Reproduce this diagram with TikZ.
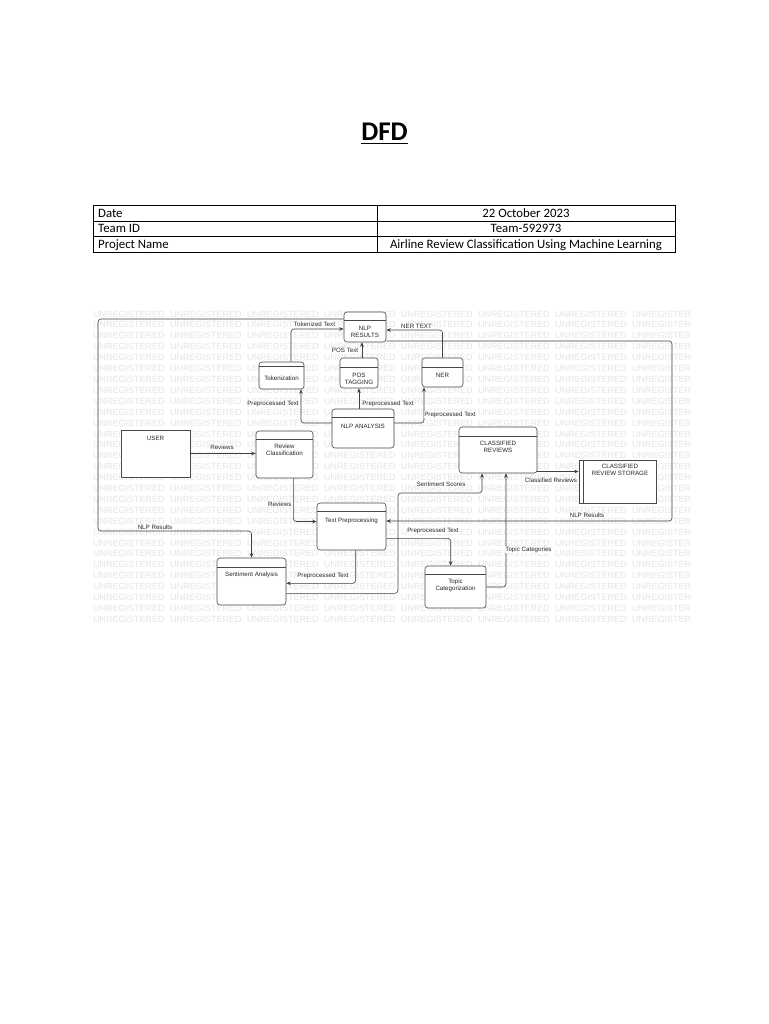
\documentclass[tikz,border=0pt]{standalone}
\usepackage{fontspec}
\setmainfont{Carlito}
\newfontfamily\diafont{Liberation Sans}
\usetikzlibrary{arrows.meta}
\begin{document}
\begin{tikzpicture}[x=1pt,y=-1pt,
  box/.style={draw=black!72, line width=0.6pt, rounded corners=3pt, inner sep=0pt, fill=white},
  ent/.style={draw=black!72, line width=0.6pt, inner sep=0pt, fill=white},
  hdr/.style={draw=black!72, line width=0.5pt},
  btxt/.style={font=\diafont\fontsize{6.2}{7.2}\selectfont, align=center, inner sep=0pt, text=black!85},
  lbl/.style={font=\diafont\fontsize{6.2}{7.2}\selectfont, inner sep=0.3pt, fill=white, text=black!85},
  flow/.style={draw=black!75, line width=0.6pt, rounded corners=3pt, -{Stealth[length=4.5pt,width=3.6pt]}},
  wm/.style={font=\diafont\fontsize{9}{10}\selectfont, text=black!10, inner sep=0pt, anchor=west},
  cell/.style={font=\fontsize{12.8}{15}\selectfont, inner sep=0pt}
]
\useasboundingbox (0,0) rectangle (768,1024);
\fill[white] (0,0) rectangle (768,1024);

% title
\node[font=\bfseries\fontsize{27}{30}\selectfont, inner sep=0pt, anchor=base] (title) at (384.5,141) {DFD};
\draw[line width=1.6pt] ([yshift=-2.5pt]title.base west) -- ([yshift=-2.5pt]title.base east);

% table
\draw[line width=0.8pt] (93,205) rectangle (675,252);
\draw[line width=0.8pt] (93,221) -- (675,221) (93,236.5) -- (675,236.5) (377,205) -- (377,252);
\node[cell, anchor=base west] (c11) at (98,217.5) {Date};
\node[cell, anchor=base west] (c21) at (98,233) {Team ID};
\node[cell, anchor=base west] (c31) at (98,248.5) {Project Name};
\node[cell, anchor=base] (c12) at (526,217.5) {22 October 2023};
\node[cell, anchor=base] (c22) at (526,233) {Team-592973};
\node[cell, anchor=base] (c32) at (526,248.5) {Airline Review Classification Using Machine Learning};

% watermark
\begin{scope}
\clip (93,307) rectangle (690,624);
\foreach \r in {0,...,28} {
  \foreach \c in {0,...,7} {
    \node[wm] (wm-\r-\c) at ({93+77*\c},{314+10.9*\r}) {UNREGISTERED};
  }
}
\end{scope}

% processes
\node[box, minimum width=42pt, minimum height=30pt] (nlpres) at (365,327) {};
\draw[hdr] ([yshift=-9pt]nlpres.north west) -- ([yshift=-9pt]nlpres.north east);
\node[btxt] (nlpres-t) at (365,331.5) {NLP\\RESULTS};

\node[box, minimum width=45pt, minimum height=27pt] (tok) at (281.5,375.5) {};
\draw[hdr] ([yshift=-5pt]tok.north west) -- ([yshift=-5pt]tok.north east);
\node[btxt] (tok-t) at (281.5,378.5) {Tokenization};

\node[box, minimum width=38pt, minimum height=30pt] (pos) at (359,373) {};
\draw[hdr] ([yshift=-10pt]pos.north west) -- ([yshift=-10pt]pos.north east);
\node[btxt] (pos-t) at (359,378.5) {POS\\TAGGING};

\node[box, minimum width=41pt, minimum height=29pt] (ner) at (442.5,372.5) {};
\draw[hdr] ([yshift=-10pt]ner.north west) -- ([yshift=-10pt]ner.north east);
\node[btxt] (ner-t) at (442.5,375) {NER};

\node[box, minimum width=62pt, minimum height=39pt] (nlpan) at (363,428.5) {};
\draw[hdr] ([yshift=-9pt]nlpan.north west) -- ([yshift=-9pt]nlpan.north east);
\node[btxt] (nlpan-t) at (363,426) {NLP ANALYSIS};

\node[box, minimum width=57pt, minimum height=47pt] (rc) at (284.5,454.5) {};
\draw[hdr] ([yshift=-9pt]rc.north west) -- ([yshift=-9pt]rc.north east);
\node[btxt] (rc-t) at (284.5,450) {Review\\Classification};

\node[ent, minimum width=69pt, minimum height=47pt] (user) at (155.5,453.5) {};
\node[btxt] (user-t) at (155.5,438) {USER};

\node[box, minimum width=69pt, minimum height=47pt] (tp) at (351.5,526.5) {};
\draw[hdr] ([yshift=-9pt]tp.north west) -- ([yshift=-9pt]tp.north east);
\node[btxt] (tp-t) at (351.5,520.5) {Text Preprocessing};

\node[box, minimum width=69pt, minimum height=47pt] (sa) at (251.5,581.5) {};
\draw[hdr] ([yshift=-10pt]sa.north west) -- ([yshift=-10pt]sa.north east);
\node[btxt] (sa-t) at (251.5,574.5) {Sentiment Analysis};

\node[box, minimum width=61pt, minimum height=42pt] (tc) at (455.5,587) {};
\draw[hdr] ([yshift=-9pt]tc.north west) -- ([yshift=-9pt]tc.north east);
\node[btxt] (tc-t) at (455.5,585) {Topic\\Categorization};

\node[box, minimum width=78pt, minimum height=46pt] (cr) at (498,450) {};
\draw[hdr] ([yshift=-10pt]cr.north west) -- ([yshift=-10pt]cr.north east);
\node[btxt] (cr-t) at (498,447) {CLASSIFIED\\REVIEWS};

\node[ent, minimum width=77pt, minimum height=43pt] (crs) at (617.5,481.5) {};
\draw[hdr] ([xshift=5pt]crs.north west) -- ([xshift=5pt]crs.south west);
\node[btxt] (crs-t) at (620,469.5) {CLASSIFIED\\REVIEW STORAGE};

% connectors
\draw[flow] ([xshift=9.5pt]tok.north) |- ([yshift=-2pt]nlpres.west);
\node[lbl] (l-tok) at (314.5,324) {Tokenized Text};

\coordinate (posup) at ([xshift=3pt]pos.north);
\draw[flow] (posup) -- (posup |- nlpres.south);
\node[lbl] (l-pos) at (345,350) {POS Text};

\draw[flow] (ner.north) |- ([yshift=-3pt]nlpres.east);
\node[lbl] (l-ner) at (416.5,326) {NER TEXT};

\draw[flow] ([yshift=5.5pt]nlpan.west) -| ([xshift=19.5pt]tok.south);
\node[lbl] (l-pt1) at (273,404) {Preprocessed Text};

\coordinate (nap) at ([xshift=-4pt]nlpan.north);
\draw[flow] (nap) -- (nap |- pos.south);
\node[lbl] (l-pt2) at (388,404) {Preprocessed Text};

\draw[flow] ([yshift=5.5pt]nlpan.east) -| ([xshift=-18.5pt]ner.south);
\node[lbl] (l-pt3) at (450,414.5) {Preprocessed Text};

\draw[flow] (user.east) -- (user.east -| rc.west);
\node[lbl] (l-rev1) at (222,447) {Reviews};

\draw[flow] ([xshift=8.8pt]rc.south) |- ([yshift=5pt]tp.west);
\node[lbl, anchor=east] (l-rev2) at (292,504.5) {Reviews};

\draw[flow] ([xshift=4.2pt]tp.south) |- ([yshift=-1.8pt]sa.east);
\node[lbl] (l-pt4) at (323,576) {Preprocessed Text};

\coordinate (lc1) at (98,319);
\coordinate (lc2) at (98,531);
\draw[flow] ([yshift=8pt]nlpres.west) -- (lc1) -- (lc2) -| (sa.north);
\node[lbl] (l-nlp1) at (155,527) {NLP Results};

\coordinate (rc1) at (672,341);
\coordinate (rc2) at (672,521);
\draw[flow] ([yshift=-14pt]nlpres.east) -- (rc1) -- (rc2) -- (rc2 -| tp.east);
\node[lbl] (l-nlp2) at (587,515.5) {NLP Results};

\coordinate (ss1) at (398,593.3);
\coordinate (ss2) at (398,493);
\draw[flow] ([yshift=-11.8pt]sa.east) -- (ss1) -- (ss2) -| ([xshift=-16pt]cr.south);
\node[lbl] (l-ss) at (441,484.5) {Sentiment Scores};

\draw[flow] ([yshift=-11.8pt]tp.east) -| ([xshift=-4.8pt]tc.north);
\node[lbl] (l-pt5) at (433,531) {Preprocessed Text};

\draw[flow] (tc.east) -| ([xshift=8pt]cr.south);
\node[lbl] (l-tcat) at (528.5,549.5) {Topic Categories};

\coordinate (cre) at ([yshift=-21.5pt]cr.east);
\draw[flow] (cre) -- (cre -| crs.west);
\node[lbl] (l-cls) at (551,480.5) {Classified Reviews};

\end{tikzpicture}
\end{document}
